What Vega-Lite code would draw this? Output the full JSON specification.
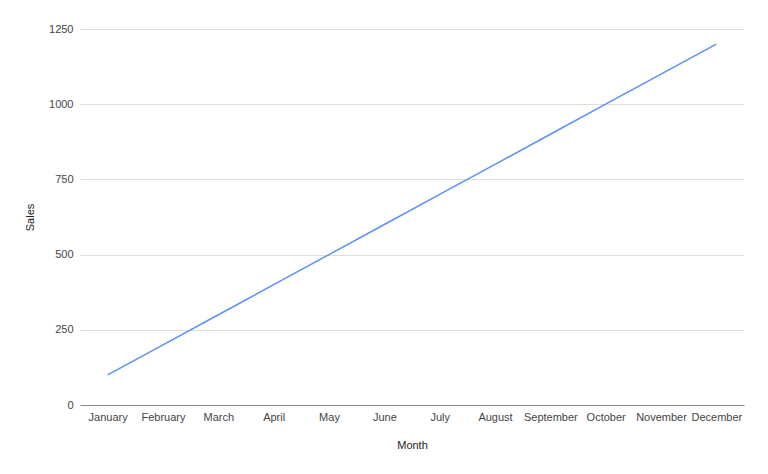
{
  "$schema": "https://vega.github.io/schema/vega-lite/v6.json",
  "width": 664,
  "height": 376,
  "autosize": {"type": "none"},
  "padding": {"left": 80, "top": 29, "right": 24, "bottom": 69},
  "background": "white",
  "config": {
    "view": {"stroke": null},
    "font": "Liberation Sans",
    "axis": {"labelFont": "Liberation Sans", "titleFont": "Liberation Sans", "labelColor": "#444444", "titleColor": "#222222", "labelFontSize": 11, "titleFontSize": 11, "titleFontWeight": "normal", "ticks": false}
  },
  "data": {
    "values": [
      {"Month": "January", "Sales": 100},
      {"Month": "February", "Sales": 200},
      {"Month": "March", "Sales": 300},
      {"Month": "April", "Sales": 400},
      {"Month": "May", "Sales": 500},
      {"Month": "June", "Sales": 600},
      {"Month": "July", "Sales": 700},
      {"Month": "August", "Sales": 800},
      {"Month": "September", "Sales": 900},
      {"Month": "October", "Sales": 1000},
      {"Month": "November", "Sales": 1100},
      {"Month": "December", "Sales": 1200}
    ]
  },
  "mark": {"type": "line", "color": "#5b8ff9", "strokeWidth": 1.5},
  "encoding": {
    "x": {
      "field": "Month",
      "type": "ordinal",
      "sort": null,
      "scale": {"padding": 0.5},
      "axis": {"labelAngle": 0, "labelPadding": 6, "domainColor": "#888888", "domainWidth": 1, "grid": false, "titlePadding": 17}
    },
    "y": {
      "field": "Sales",
      "type": "quantitative",
      "scale": {"domain": [0, 1250], "nice": false},
      "axis": {"values": [0, 250, 500, 750, 1000, 1250], "format": "d", "domain": false, "gridColor": "#dddddd", "labelPadding": 7, "titlePadding": 13}
    }
  }
}
